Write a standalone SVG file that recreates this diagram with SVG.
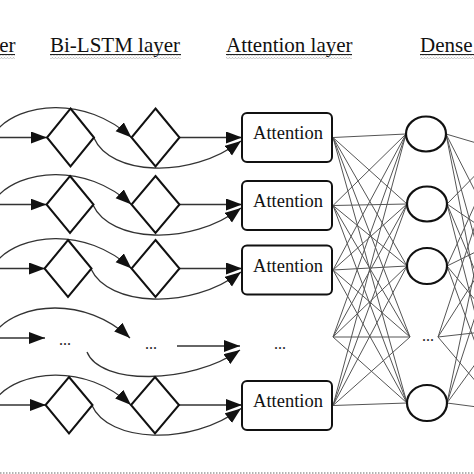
<svg xmlns="http://www.w3.org/2000/svg" width="474" height="474" viewBox="0 0 474 474">
<defs>
<style>
.hdr{font-family:"Liberation Serif","Times New Roman",serif;font-size:21px;fill:#111}
.lbl{font-family:"Liberation Serif","Times New Roman",serif;font-size:18.5px;fill:#111;text-anchor:middle}
.dots{font-family:"Liberation Serif","Times New Roman",serif;font-size:16px;fill:#222;text-anchor:middle}
.dia{fill:#fff;stroke:#111;stroke-width:2}
.box{fill:#fff;stroke:#111;stroke-width:2}
.neu{fill:#fff;stroke:#111;stroke-width:2.2}
.arr{fill:none;stroke:#333;stroke-width:1.3;marker-end:url(#ah)}
.full{stroke:#555;stroke-width:1}
.ul{stroke:#222;stroke-width:1}
</style>
<marker id="ah" markerUnits="userSpaceOnUse" markerWidth="17" markerHeight="13" refX="16" refY="6" orient="auto">
<path d="M0,0 L16,6 L0,12 Z" fill="#111"/>
</marker>
<pattern id="wave" width="3" height="3" patternUnits="userSpaceOnUse">
<path d="M0,2.2 L1.5,0.6 L3,2.2" fill="none" stroke="#888" stroke-width="0.8"/>
</pattern>
</defs>
<rect width="474" height="474" fill="#fff"/>

<g id="headers">
<text class="hdr" x="15.5" y="52" text-anchor="end">er</text>
<text class="hdr" x="50" y="52">Bi-LSTM layer</text>
<text class="hdr" x="226" y="52">Attention layer</text>
<text class="hdr" x="420" y="52">Dense</text>
<line class="ul" x1="0" y1="54.5" x2="15" y2="54.5"/>
<line class="ul" x1="50" y1="54.5" x2="181" y2="54.5"/>
<line class="ul" x1="226" y1="54.5" x2="352" y2="54.5"/>
<line class="ul" x1="420" y1="54.5" x2="474" y2="54.5"/>
<rect x="0" y="55.5" width="15" height="3" fill="url(#wave)"/>
<rect x="50" y="55.5" width="131" height="3" fill="url(#wave)"/>
<rect x="226" y="55.5" width="126" height="3" fill="url(#wave)"/>
<rect x="420" y="55.5" width="54" height="3" fill="url(#wave)"/>
</g>

<g id="connectors">
<!-- row 1 -->
<path class="arr" d="M0,137.5 L47,137.5"/>
<path class="arr" d="M-5,132 C20,102 85,95 131.5,137.5"/>
<path class="arr" d="M94,138 C110,175 190,180 241,141"/>
<path class="arr" d="M179,137.5 L242,137.5"/>
<!-- row 2 -->
<path class="arr" d="M0,204.5 L46.5,204.5"/>
<path class="arr" d="M-5,199 C20,169 85,162 131.5,204.5"/>
<path class="arr" d="M93,205 C110,242 190,247 241,208"/>
<path class="arr" d="M179,204.5 L242,204.5"/>
<!-- row 3 -->
<path class="arr" d="M0,268.5 L45,268.5"/>
<path class="arr" d="M-5,263 C20,233 85,226 131.5,268.5"/>
<path class="arr" d="M91,269 C108,306 190,311 241,272"/>
<path class="arr" d="M179,268.5 L242,268.5"/>
<!-- row 4 (dots) -->
<path class="arr" d="M0,338 L45,338"/>
<path class="arr" d="M-5,332 C20,302 85,296 130,338"/>
<path class="arr" d="M87,352 C100,385 190,385 240,350"/>
<path class="arr" d="M177,346 L240,346"/>
<!-- row 5 -->
<path class="arr" d="M0,405 L46,405"/>
<path class="arr" d="M-5,399.5 C20,369.5 85,362.5 131,405"/>
<path class="arr" d="M92,405.5 C108,442 190,447 241,408.5"/>
<path class="arr" d="M179,405 L242,405"/>

<!-- attention to dense (full connections) -->
<g class="full">
<line x1="333" y1="137.5" x2="406" y2="134"/><line x1="333" y1="137.5" x2="407" y2="204"/><line x1="333" y1="137.5" x2="407" y2="266"/><line x1="333" y1="137.5" x2="410" y2="337"/><line x1="333" y1="137.5" x2="407" y2="403"/>
<line x1="333" y1="205.5" x2="406" y2="134"/><line x1="333" y1="205.5" x2="407" y2="204"/><line x1="333" y1="205.5" x2="407" y2="266"/><line x1="333" y1="205.5" x2="410" y2="337"/><line x1="333" y1="205.5" x2="407" y2="403"/>
<line x1="333" y1="270" x2="406" y2="134"/><line x1="333" y1="270" x2="407" y2="204"/><line x1="333" y1="270" x2="407" y2="266"/><line x1="333" y1="270" x2="410" y2="337"/><line x1="333" y1="270" x2="407" y2="403"/>
<line x1="333" y1="337" x2="406" y2="134"/><line x1="333" y1="337" x2="407" y2="204"/><line x1="333" y1="337" x2="407" y2="266"/><line x1="333" y1="337" x2="410" y2="337"/><line x1="333" y1="337" x2="407" y2="403"/>
<line x1="333" y1="405.5" x2="406" y2="134"/><line x1="333" y1="405.5" x2="407" y2="204"/><line x1="333" y1="405.5" x2="407" y2="266"/><line x1="333" y1="405.5" x2="410" y2="337"/><line x1="333" y1="405.5" x2="407" y2="403"/>
</g>
<!-- dense to next layer (off canvas) -->
<g class="full">
<line x1="446" y1="134" x2="500" y2="150"/><line x1="446" y1="134" x2="500" y2="240"/><line x1="446" y1="134" x2="500" y2="330"/><line x1="446" y1="134" x2="500" y2="410"/>
<line x1="447" y1="204" x2="500" y2="150"/><line x1="447" y1="204" x2="500" y2="240"/><line x1="447" y1="204" x2="500" y2="330"/><line x1="447" y1="204" x2="500" y2="410"/>
<line x1="447" y1="266" x2="500" y2="150"/><line x1="447" y1="266" x2="500" y2="240"/><line x1="447" y1="266" x2="500" y2="330"/><line x1="447" y1="266" x2="500" y2="410"/>
<line x1="438" y1="337" x2="500" y2="150"/><line x1="438" y1="337" x2="500" y2="240"/><line x1="438" y1="337" x2="500" y2="330"/><line x1="438" y1="337" x2="500" y2="410"/>
<line x1="447" y1="403" x2="500" y2="150"/><line x1="447" y1="403" x2="500" y2="240"/><line x1="447" y1="403" x2="500" y2="330"/><line x1="447" y1="403" x2="500" y2="410"/>
</g>
</g>

<!-- Bi-LSTM nodes -->
<g id="lstm_f1"><polygon class="dia" points="70.5,108.5 94,137.5 70.5,166.5 47,137.5"/></g>
<g id="lstm_b1"><polygon class="dia" points="155.5,108.5 179.5,137.5 155.5,166.5 131.5,137.5"/></g>
<g id="lstm_f2"><polygon class="dia" points="70,176 93.5,204.5 70,233 46.5,204.5"/></g>
<g id="lstm_b2"><polygon class="dia" points="155.5,176 179.5,204.5 155.5,233 131.5,204.5"/></g>
<g id="lstm_f3"><polygon class="dia" points="68,240 91.5,268.5 68,297 44.5,268.5"/></g>
<g id="lstm_b3"><polygon class="dia" points="155.5,240 179.5,268.5 155.5,297 131.5,268.5"/></g>
<g id="lstm_f4"><text class="dots" x="65" y="345">...</text></g>
<g id="lstm_b4"><text class="dots" x="151" y="349">...</text></g>
<g id="lstm_f5"><polygon class="dia" points="69,377 92.5,405 69,433.5 45.5,405"/></g>
<g id="lstm_b5"><polygon class="dia" points="155,377 179,405 155,433.5 131,405"/></g>

<!-- Attention nodes -->
<g id="att1"><rect class="box" x="242" y="113" width="90" height="49" rx="5"/><text class="lbl" x="288" y="139">Attention</text></g>
<g id="att2"><rect class="box" x="242" y="181" width="90" height="49" rx="5"/><text class="lbl" x="288" y="207">Attention</text></g>
<g id="att3"><rect class="box" x="242" y="245.5" width="90" height="49" rx="5"/><text class="lbl" x="288" y="271.5">Attention</text></g>
<g id="att4"><text class="dots" x="280" y="349">...</text></g>
<g id="att5"><rect class="box" x="242" y="381" width="90" height="49" rx="5"/><text class="lbl" x="288" y="407">Attention</text></g>

<!-- Dense nodes -->
<g id="dense1"><ellipse class="neu" cx="426" cy="134" rx="20" ry="17.5"/></g>
<g id="dense2"><ellipse class="neu" cx="427" cy="204" rx="20" ry="17.5"/></g>
<g id="dense3"><ellipse class="neu" cx="427" cy="266" rx="20" ry="18"/></g>
<g id="dense4"><text class="dots" x="428" y="341">...</text></g>
<g id="dense5"><ellipse class="neu" cx="427" cy="403" rx="20" ry="18"/></g>

<line x1="0" y1="473" x2="474" y2="473" stroke="#666" stroke-width="1.2" stroke-dasharray="1.5 1.5"/>
</svg>
